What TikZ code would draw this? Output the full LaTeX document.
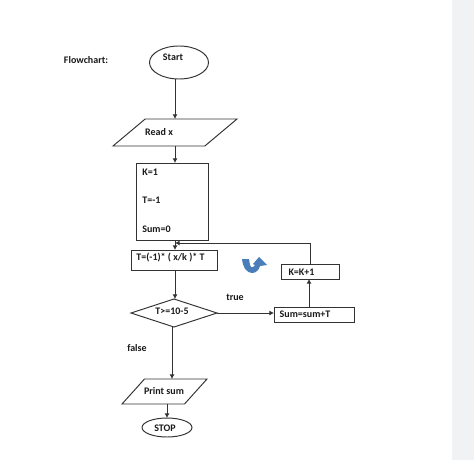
\documentclass[tikz,border=0pt]{standalone}
\usepackage{fontspec}
\setmainfont{Carlito}
\usetikzlibrary{arrows.meta,shapes.geometric}
\definecolor{stripgray}{HTML}{F1F2F4}
\definecolor{turnblue}{HTML}{4A7EBB}
\newcommand{\parastrut}[1]{\phantom{\rule{1pt}{#1}}}
\tikzset{
  shp/.style={draw=black!80,line width=0.55pt,inner sep=0pt,outer sep=0pt},
  boxnode/.style={shp,rectangle},
  oval/.style={shp,ellipse},
  para/.style={shp,trapezium,trapezium stretches body=true},
  lbl/.style={text=black!90,inner sep=0pt,font=\fontsize{5.7}{6.5}\selectfont\bfseries},
  arr/.style={draw=black!80,line width=0.55pt,-{Latex[length=2.6pt,width=2.8pt]}}
}
\begin{document}
\begin{tikzpicture}
  \useasboundingbox (0,0) rectangle (9.48,9.2);
  \fill[stripgray] (9.04,0) rectangle (9.48,9.2);
  % shapes
  \node[oval,minimum width=1.18cm,minimum height=0.66cm] (start) at (3.58,7.95) {};
  \node[para,trapezium left angle=40,trapezium right angle=140,minimum width=2.48cm] (readx) at (3.5,6.55) {\parastrut{0.54cm}};
  \node[boxnode,minimum width=1.44cm,minimum height=1.54cm] (init) at (3.44,5.17) {};
  \node[boxnode,minimum width=1.72cm,minimum height=0.4cm] (term) at (3.48,4.0) {};
  \node[shp,diamond,aspect=3,minimum width=1.72cm,minimum height=0.56cm] (test) at (3.48,2.94) {};
  \node[boxnode,minimum width=1.6cm,minimum height=0.3cm] (sum) at (6.28,2.91) {};
  \node[boxnode,minimum width=1.16cm,minimum height=0.3cm] (next) at (6.2,3.77) {};
  \node[para,trapezium left angle=48,trapezium right angle=132,minimum width=1.7cm] (print) at (3.29,1.37) {\parastrut{0.5cm}};
  \node[oval,minimum width=1cm,minimum height=0.38cm] (stop) at (3.34,0.65) {};
  % texts
  \node[lbl] (title) at (1.72,8.0) {Flowchart:};
  \node[lbl] (starttxt) at (3.46,8.06) {Start};
  \node[lbl] (readtxt) at (3.18,6.56) {Read x};
  \node[lbl,anchor=west] (ktxt) at (2.84,5.76) {K=1};
  \node[lbl,anchor=west] (ttxt) at (2.84,5.2) {T=-1};
  \node[lbl,anchor=west] (sumtxt) at (2.84,4.62) {Sum=0};
  \node[lbl] (termtxt) at (3.41,4.04) {T=(-1)* ( x/k )* T};
  \node[lbl] (testtxt) at (3.44,2.98) {T>=10-5};
  \node[lbl] (sumtt) at (6.1,2.92) {Sum=sum+T};
  \node[lbl] (nexttxt) at (6.03,3.76) {K=K+1};
  \node[lbl] (truetxt) at (4.7,3.26) {true};
  \node[lbl] (falsetxt) at (2.74,2.24) {false};
  \node[lbl] (printtxt) at (3.28,1.38) {Print sum};
  \node[lbl] (stoptxt) at (3.3,0.64) {STOP};
  % connectors
  \coordinate (join) at (3.5,4.34);
  \draw[arr] (start.south -| readx.north) -- (readx.north);
  \draw[arr] (readx.south) -- (readx.south |- init.north);
  \draw[arr] (readx.south |- init.south) -- (readx.south |- term.north);
  \draw[arr] (readx.south |- term.south) -- (readx.south |- test.north);
  \draw[arr] (test.east) -- (test.east -| sum.west);
  \draw[arr] (6.18,0 |- sum.north) -- (6.18,0 |- next.south);
  \draw[arr] (6.2,0 |- next.north) -- (6.2,0 |- join) -- (join);
  \draw[arr] ([xshift=-0.04cm]test.south) -- ([xshift=-0.04cm]test.south |- print.north);
  \draw[arr] (print.south -| stop.north) -- (stop.north);
  % u-turn mark
  \fill[turnblue] (4.84,4.02) .. controls (4.86,3.84) and (4.94,3.74) .. (5.04,3.74)
     .. controls (5.12,3.74) and (5.18,3.8) .. (5.2,3.88) -- (5.34,3.9) -- (5.18,4.06) -- (5.06,3.92) -- (5.1,3.9)
     .. controls (5.06,3.84) and (5.02,3.84) .. (5.0,3.9) -- (4.98,4.02) -- cycle;
\end{tikzpicture}
\end{document}
